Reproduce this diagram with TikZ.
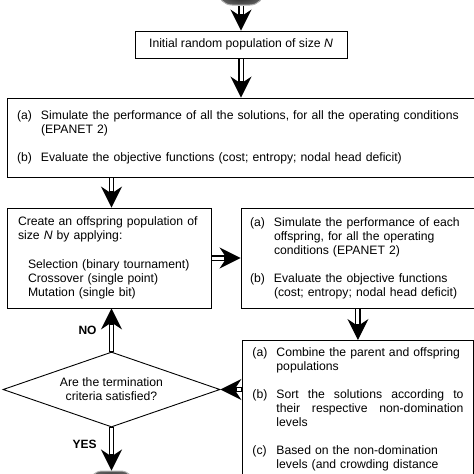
\documentclass[tikz,border=0pt]{standalone}
\usepackage{fontspec}
\setmainfont{Liberation Sans}
\usetikzlibrary{arrows.meta,shapes.geometric,positioning}
\tikzset{proc box/.style={draw=black, line width=0.9pt, align=left, inner ysep=6pt}}
\tikzset{term state/.style={draw=gray!60, line width=1pt, rounded corners=14pt, inner color=black, outer color=black!65, minimum width=46pt, minimum height=30pt}}
\tikzset{test state/.style={draw=black, line width=0.9pt, diamond, aspect=2.9, inner sep=0pt, minimum width=217pt, minimum height=75pt, align=center}}
\tikzset{flow/.style={line width=1.2pt,
    preaction={draw, line width=5.4pt, -, shorten >=14pt},
    postaction={draw=white, line width=3pt, -, shorten >=16.5pt, shorten <=0.6pt}}}
\newcommand{\itemlbl}[1]{\makebox[24pt][l]{#1}}
\newcommand{\itemind}{\hspace*{24pt}}

\begin{document}
\begin{tikzpicture}[->,>={Stealth[length=21pt,width=21pt,inset=7pt]},x=1pt,y=-1pt,
                    font=\fontsize{12.2}{14}\selectfont]
  \clip (0,0) rectangle (474,474);
  \useasboundingbox (0,0) rectangle (474,474);
  \node[term state] at (241,-10) (start) {};
  \node[proc box, minimum width=212pt, minimum height=27pt, align=center] at (241,44.5) (init)
    {Initial random population of size \textit{N}};
  \node[proc box, minimum height=79pt, text width=460pt, inner xsep=10pt] at (247,137.5) (eval)
    {\itemlbl{(a)}Simulate the performance of all the solutions, for all the operating conditions\\
     \itemind(EPANET 2)\\[14pt]
     \itemlbl{(b)}Evaluate the objective functions (cost; entropy; nodal head deficit)};
  \node[proc box, minimum height=100pt, text width=182pt, inner xsep=11pt] at (109,258) (create)
    {Create an offspring population of\\
     size \textit{N} by applying:\\[15pt]
     \hspace*{10pt}Selection (binary tournament)\\
     \hspace*{10pt}Crossover (single point)\\
     \hspace*{10pt}Mutation (single bit)};
  \node[proc box, minimum height=100pt, text width=232pt, inner xsep=9pt] at (366,258) (offeval)
    {\itemlbl{(a)}Simulate the performance of each\\
     \itemind offspring, for all the operating\\
     \itemind conditions (EPANET 2)\\[14pt]
     \itemlbl{(b)}Evaluate the objective functions\\
     \itemind(cost; entropy; nodal head deficit)};
  \node[proc box, anchor=north west, text width=211pt, inner xsep=10pt, inner ysep=7pt] at (242,340) (merge)
    {\itemlbl{(a)}Combine the parent and offspring\\
     \itemind populations\\[14pt]
     \itemlbl{(b)}\makebox[187pt]{Sort\hfill the\hfill solutions\hfill according\hfill to}\\
     \itemind\makebox[187pt]{their\hfill respective\hfill non-domination}\\
     \itemind levels\\[14pt]
     \itemlbl{(c)}Based on the non-domination\\
     \itemind levels (and crowding distance\\
     \itemind};
  \node[test state] at (111.5,389.5) (decide) {Are the termination\\criteria satisfied?};
  \node[term state] at (111.5,486) (stop) {};

  \path (start) edge[flow] (init);
  \path (init.south) edge[flow] (init.south |- eval.north);
  \path (eval.south -| decide.north) edge[flow] (create.north -| decide.north);
  \path (create.east) edge[flow] (offeval.west);
  \path (offeval.south -| merge.north) edge[flow] (merge.north);
  \path (merge.west |- decide.east) edge[flow] (decide.east);
  \path (decide.north) edge[flow] node[left, xshift=-11pt, font=\bfseries\fontsize{12}{14}\selectfont] {NO} (decide.north |- create.south);
  \path (decide.south) edge[flow] node[left, pos=0.4, xshift=-11pt, font=\bfseries\fontsize{12}{14}\selectfont] {YES} (stop);
\end{tikzpicture}
\end{document}
